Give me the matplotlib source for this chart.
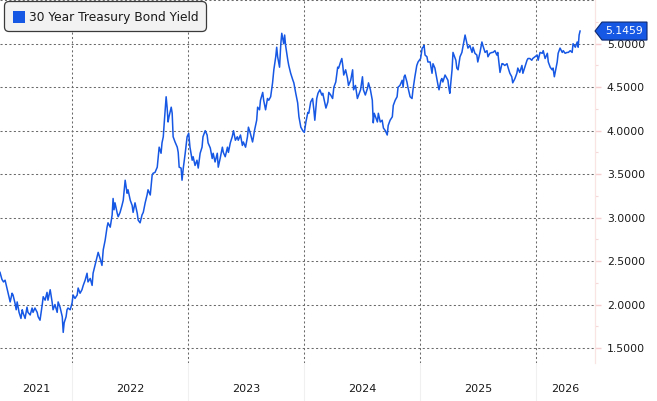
import matplotlib
matplotlib.use("Agg")
import matplotlib.pyplot as plt
import matplotlib.dates as mdates
import matplotlib.ticker as mticker
from matplotlib.patches import Polygon, FancyBboxPatch, Rectangle
from matplotlib.lines import Line2D
import pandas as pd

plt.rcParams['font.family'] = ['DejaVu Sans']
plt.rcParams['lines.scale_dashes'] = False

# ---------------- data (30 Year Treasury Bond Yield, %) ----------------
dates_2021 = ['2021-05-19','2021-05-25','2021-05-30','2021-06-04','2021-06-10','2021-06-13','2021-06-20','2021-06-26','2021-06-29',
              '2021-07-05','2021-07-09','2021-07-12','2021-07-18','2021-07-24','2021-07-28','2021-07-31',
              '2021-08-06','2021-08-12','2021-08-15','2021-08-22','2021-08-28','2021-08-31',
              '2021-09-06','2021-09-13','2021-09-16','2021-09-22','2021-09-29',
              '2021-10-02','2021-10-08','2021-10-14','2021-10-17','2021-10-24','2021-10-30',
              '2021-11-02','2021-11-08','2021-11-15','2021-11-18','2021-11-24',
              '2021-12-01','2021-12-04','2021-12-07','2021-12-13','2021-12-16','2021-12-19','2021-12-26']
yields_2021 = [2.37,2.29,2.26,2.28,2.19,2.14,2.03,2.13,2.11,
               2.02,1.94,2.03,1.91,1.84,1.94,1.90,
               1.84,1.97,1.91,1.88,1.96,1.91,
               1.96,1.91,1.86,1.82,2.00,
               2.09,2.05,2.14,2.05,2.17,2.03,
               1.94,2.00,1.91,2.03,1.97,
               1.86,1.68,1.79,1.86,1.94,1.96,1.94]

dates_2022 = ['2022-01-01','2022-01-04','2022-01-10','2022-01-17','2022-01-20','2022-01-26',
              '2022-02-01','2022-02-05','2022-02-11','2022-02-17','2022-02-20','2022-02-27',
              '2022-03-05','2022-03-08','2022-03-14','2022-03-21','2022-03-24','2022-03-30',
              '2022-04-05','2022-04-09','2022-04-15','2022-04-21','2022-04-24',
              '2022-05-01','2022-05-07','2022-05-10','2022-05-13','2022-05-16','2022-05-23','2022-05-26',
              '2022-06-01','2022-06-07','2022-06-11','2022-06-17','2022-06-23','2022-06-26',
              '2022-07-03','2022-07-09','2022-07-12','2022-07-18','2022-07-25','2022-07-28',
              '2022-08-03','2022-08-09','2022-08-13','2022-08-19','2022-08-25','2022-08-28',
              '2022-09-04','2022-09-10','2022-09-13','2022-09-19','2022-09-26','2022-09-29',
              '2022-10-02','2022-10-08','2022-10-11','2022-10-15','2022-10-18','2022-10-24','2022-10-27','2022-10-30',
              '2022-11-02','2022-11-09','2022-11-12','2022-11-15','2022-11-21','2022-11-28',
              '2022-12-01','2022-12-04','2022-12-10','2022-12-13','2022-12-17','2022-12-23','2022-12-29']
yields_2022 = [2.02,2.11,2.07,2.11,2.19,2.13,
               2.17,2.22,2.28,2.36,2.26,2.30,
               2.22,2.36,2.45,2.55,2.60,2.53,
               2.45,2.63,2.74,2.89,2.94,
               2.89,3.03,3.22,3.09,3.17,3.05,3.01,
               3.06,3.14,3.20,3.43,3.28,3.32,
               3.20,3.14,3.06,3.17,3.05,2.97,
               2.94,3.03,3.06,3.17,3.26,3.32,
               3.26,3.49,3.51,3.52,3.58,3.70,
               3.81,3.74,3.86,3.93,4.09,4.39,4.27,4.10,
               4.16,4.27,4.20,3.93,3.87,3.81,
               3.75,3.58,3.57,3.43,3.57,3.74,3.93]

dates_2023 = ['2023-01-03','2023-01-07','2023-01-14','2023-01-17','2023-01-23','2023-01-29',
              '2023-02-02','2023-02-08','2023-02-14','2023-02-17','2023-02-24',
              '2023-03-02','2023-03-05','2023-03-12','2023-03-18','2023-03-21','2023-03-27',
              '2023-04-03','2023-04-06','2023-04-12','2023-04-19','2023-04-22','2023-04-28',
              '2023-05-05','2023-05-08','2023-05-14','2023-05-20','2023-05-24','2023-05-30',
              '2023-06-05','2023-06-08','2023-06-15','2023-06-21','2023-06-24',
              '2023-07-01','2023-07-07','2023-07-10','2023-07-16','2023-07-23','2023-07-26','2023-07-29',
              '2023-08-05','2023-08-08','2023-08-14','2023-08-17','2023-08-24','2023-08-27',
              '2023-09-02','2023-09-08','2023-09-12','2023-09-18','2023-09-24','2023-09-28',
              '2023-10-04','2023-10-07','2023-10-10','2023-10-16','2023-10-20','2023-10-23','2023-10-29',
              '2023-11-01','2023-11-04','2023-11-11','2023-11-14','2023-11-20','2023-11-27','2023-11-30',
              '2023-12-06','2023-12-12','2023-12-16','2023-12-22','2023-12-28']
yields_2023 = [3.97,3.81,3.66,3.70,3.60,3.66,
               3.57,3.74,3.81,3.93,4.00,
               3.95,3.86,3.80,3.68,3.74,3.64,
               3.74,3.58,3.68,3.81,3.75,3.70,
               3.81,3.75,3.86,3.93,4.00,3.89,
               3.93,3.89,3.95,3.83,3.87,
               3.81,3.93,4.04,3.97,3.87,3.93,4.00,
               4.12,4.27,4.24,4.35,4.44,4.35,
               4.24,4.37,4.35,4.39,4.55,4.70,
               4.85,4.96,4.85,4.73,5.00,5.12,5.00,
               5.10,4.98,4.81,4.75,4.66,4.58,4.55,
               4.43,4.32,4.16,4.04,4.00]

dates_2024 = ['2024-01-02','2024-01-07','2024-01-13','2024-01-16','2024-01-22','2024-01-28',
              '2024-02-01','2024-02-04','2024-02-10','2024-02-14','2024-02-20','2024-02-26','2024-02-29',
              '2024-03-06','2024-03-10','2024-03-16','2024-03-19','2024-03-25','2024-03-31',
              '2024-04-04','2024-04-10','2024-04-16','2024-04-19','2024-04-25','2024-04-29',
              '2024-05-02','2024-05-05','2024-05-11','2024-05-17','2024-05-20','2024-05-27',
              '2024-06-02','2024-06-05','2024-06-11','2024-06-17','2024-06-21','2024-06-27',
              '2024-07-03','2024-07-06','2024-07-12','2024-07-19','2024-07-22','2024-07-28',
              '2024-08-03','2024-08-06','2024-08-09','2024-08-13','2024-08-19','2024-08-22','2024-08-28',
              '2024-09-03','2024-09-07','2024-09-13','2024-09-19','2024-09-22','2024-09-28',
              '2024-10-05','2024-10-08','2024-10-14','2024-10-20','2024-10-23','2024-10-29',
              '2024-11-05','2024-11-08','2024-11-11','2024-11-14','2024-11-20','2024-11-23','2024-11-30',
              '2024-12-06','2024-12-09','2024-12-15','2024-12-21','2024-12-25']
yields_2024 = [3.98,4.10,4.21,4.20,4.33,4.37,
               4.24,4.12,4.37,4.43,4.47,4.41,4.43,
               4.33,4.26,4.33,4.44,4.41,4.37,
               4.50,4.56,4.73,4.72,4.79,4.83,
               4.75,4.64,4.70,4.60,4.52,4.58,
               4.70,4.47,4.52,4.37,4.41,4.47,
               4.62,4.47,4.41,4.49,4.55,4.47,
               4.35,4.09,4.20,4.16,4.10,4.20,4.10,
               4.12,4.03,4.00,3.95,4.06,4.12,
               4.16,4.29,4.35,4.39,4.50,4.52,
               4.58,4.50,4.62,4.64,4.56,4.50,4.39,
               4.37,4.47,4.62,4.75,4.79]

dates_2025 = ['2025-01-02','2025-01-07','2025-01-10','2025-01-13','2025-01-16','2025-01-22','2025-01-25',
              '2025-02-01','2025-02-07','2025-02-10','2025-02-16','2025-02-22','2025-02-26',
              '2025-03-01','2025-03-07','2025-03-10','2025-03-13','2025-03-20','2025-03-26','2025-03-29',
              '2025-04-01','2025-04-04','2025-04-11','2025-04-14','2025-04-17','2025-04-23','2025-04-26','2025-04-30',
              '2025-05-06','2025-05-12','2025-05-15','2025-05-22','2025-05-28','2025-05-31',
              '2025-06-06','2025-06-13','2025-06-16','2025-06-22','2025-06-28',
              '2025-07-01','2025-07-08','2025-07-14','2025-07-17','2025-07-24','2025-07-30',
              '2025-08-02','2025-08-08','2025-08-15','2025-08-18','2025-08-24','2025-08-30',
              '2025-09-02','2025-09-09','2025-09-15','2025-09-18','2025-09-24',
              '2025-10-01','2025-10-04','2025-10-10','2025-10-16','2025-10-19','2025-10-26',
              '2025-11-01','2025-11-04','2025-11-10','2025-11-17','2025-11-20','2025-11-26',
              '2025-12-03','2025-12-06','2025-12-12','2025-12-18','2025-12-21','2025-12-28']
yields_2025 = [4.83,4.95,4.96,4.98,4.87,4.85,4.79,
               4.79,4.66,4.77,4.72,4.60,4.52,
               4.47,4.58,4.60,4.56,4.64,4.60,4.58,
               4.49,4.43,4.70,4.90,4.87,4.81,4.72,4.70,
               4.85,4.90,4.96,5.10,5.00,4.95,
               4.98,4.90,4.96,4.89,4.87,
               4.79,4.90,5.02,4.98,4.90,4.92,
               4.85,4.89,4.90,4.90,4.92,4.87,
               4.90,4.67,4.77,4.77,4.75,
               4.77,4.73,4.66,4.62,4.55,4.60,
               4.66,4.72,4.67,4.75,4.66,4.73,
               4.81,4.83,4.83,4.81,4.83,4.85]

dates_2026 = ['2026-01-04','2026-01-07','2026-01-13','2026-01-20','2026-01-23','2026-01-29',
              '2026-02-05','2026-02-08','2026-02-14','2026-02-20','2026-02-23','2026-02-27',
              '2026-03-05','2026-03-08','2026-03-11','2026-03-17','2026-03-24','2026-03-27',
              '2026-04-02','2026-04-08','2026-04-12','2026-04-18','2026-04-24','2026-04-27',
              '2026-05-04','2026-05-10','2026-05-13','2026-05-16','2026-05-19']
yields_2026 = [4.87,4.81,4.90,4.89,4.92,4.83,
               4.89,4.79,4.73,4.70,4.72,4.62,
               4.73,4.79,4.89,4.95,4.90,4.92,
               4.89,4.90,4.90,4.92,4.90,5.00,
               4.96,5.02,4.96,5.10,5.1459]

series_label = "30 Year Treasury Bond Yield"
year_labels = ['2021', '2022', '2023', '2024', '2025', '2026']
y_ticks = [1.5, 2.0, 2.5, 3.0, 3.5, 4.0, 4.5, 5.0]

all_dates = dates_2021 + dates_2022 + dates_2023 + dates_2024 + dates_2025 + dates_2026
all_yields = yields_2021 + yields_2022 + yields_2023 + yields_2024 + yields_2025 + yields_2026
assert len(all_dates) == len(all_yields)
x = pd.to_datetime(all_dates)

# ---------------- figure ----------------
W, H = 657, 401
fig = plt.figure(figsize=(W / 100, H / 100), dpi=100)
ax_l, ax_r, ax_top, ax_bot = 0, 595, 0, 363
ax = fig.add_axes([ax_l / W, 1 - ax_bot / H, (ax_r - ax_l) / W, (ax_bot - ax_top) / H])

line_color = '#1657e4'
grid_color = '#6a6a6a'
ax.plot(x, all_yields, color=line_color, lw=1.1, solid_joinstyle='round', zorder=3)

xmin = pd.Timestamp(dates_2021[0])
xmax = pd.Timestamp('2026-07-05')
ax.set_xlim(xmin, xmax)
ax.set_ylim(1.316 + 0.0115, 5.503)

# gridlines
dash = (0, (1.5, 1.7))
for yv in y_ticks + [5.5]:
    ax.axhline(yv, color=grid_color, lw=0.75, ls=dash, zorder=1)
year_starts = [pd.Timestamp(f'{int(y)}-01-01') for y in year_labels[1:]]
for ys in year_starts:
    ax.axvline(ys, color=grid_color, lw=0.75, ls=dash, zorder=1)

fig.canvas.draw()
# faint separators continuing into the label band
for ys in year_starts:
    xp = ax.transData.transform((mdates.date2num(ys), 0))[0] / W
    fig.add_artist(Line2D([xp, xp], [0, 1 - ax_bot / H], transform=fig.transFigure,
                          color='#f0f0f0', lw=0.75))

# x labels centered in the visible part of each year
lab_pos = []
for y in year_labels:
    s = max(pd.Timestamp(f'{y}-01-01'), xmin)
    e = min(pd.Timestamp(f'{int(y)+1}-01-01'), xmax)
    lab_pos.append(s + (e - s) / 2)
ax.set_xticks(lab_pos)
ax.set_xticklabels(year_labels)
ax.tick_params(axis='x', length=0, pad=15, labelsize=8, colors='#1a1a1a')

# y axis on the right
ax.yaxis.tick_right()
ax.set_yticks(y_ticks)
ax.yaxis.set_major_formatter(mticker.FormatStrFormatter('%.4f'))
ax.set_yticks([v + 0.25 for v in y_ticks], minor=True)
ax.tick_params(axis='y', which='major', length=4, width=1.0, color='#f5cfcf', pad=4.5,
               labelsize=7.8, labelcolor='#1a1a1a')
ax.tick_params(axis='y', which='minor', length=2.5, width=0.8, color='#f5d8d8')

for side in ['top', 'left', 'bottom']:
    ax.spines[side].set_visible(False)
ax.spines['right'].set_color('#fae3e3')
ax.spines['right'].set_linewidth(0.9)

# ---------------- last value tag ----------------
fig.canvas.draw()
last_val = all_yields[-1]
xs = ax.transAxes.transform((1, 0))[0]
yc = ax.transData.transform((mdates.date2num(x[-1]), last_val))[1]
hh = 9
verts_px = [(xs, yc), (xs + 7, yc + hh), (xs + 52, yc + hh), (xs + 52, yc - hh), (xs + 7, yc - hh)]
to_fig = fig.transFigure.inverted()
verts = [to_fig.transform(v) for v in verts_px]
tag = Polygon(verts, closed=True, transform=fig.transFigure, facecolor='#1657e4',
              edgecolor='#0d2a70', lw=0.8, zorder=10, clip_on=False)
fig.patches.append(tag)
tx, ty = to_fig.transform((xs + 29.5, yc))
fig.text(tx, ty, f'{last_val:.4f}', color='white', fontsize=7.8, ha='center', va='center', zorder=11)

# ---------------- legend box ----------------
def px(xp, yp_top):
    return (xp / W, 1 - yp_top / H)

lx0, ly0 = px(4.5, 31.5)
box = FancyBboxPatch((lx0, ly0), 202 / W, 30 / H, boxstyle='round,pad=0,rounding_size=0.007',
                     transform=fig.transFigure, facecolor='#f2f2f2', edgecolor='#3a3a3a', lw=0.9,
                     zorder=12, mutation_aspect=W / H)
fig.patches.append(box)
sx, sy = px(13, 23)
fig.patches.append(Rectangle((sx, sy), 12 / W, 12 / H, transform=fig.transFigure,
                             facecolor='#1657e4', edgecolor='none', zorder=13))
tx, ty = px(29, 17.5)
fig.text(tx, ty, series_label, fontsize=8.85, color='#1a1a1a', ha='left', va='center', zorder=14)

fig.savefig('out.png', dpi=100, facecolor='white')
